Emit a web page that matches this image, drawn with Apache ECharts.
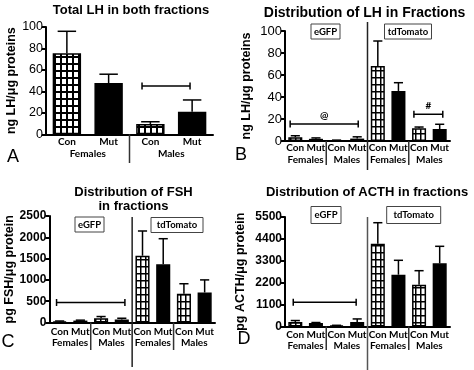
<!DOCTYPE html>
<html><head><meta charset="utf-8">
<script src="https://cdn.jsdelivr.net/npm/echarts@6/dist/echarts.min.js"></script>
<style>html,body{margin:0;padding:0;background:#fff}#c{width:474px;height:370px}</style>
</head><body><div id="c"></div>
<script>
// ---------- data ----------
const catsA = ['Con','Mut','Con','Mut'];
const groupsA = ['Females','Males'];
const meanA = [75.6, 47.7, 9.6, 21];
const errA = [96, 56, 11.7, 32];

const cats8 = ['Con','Mut','Con','Mut','Con','Mut','Con','Mut'];
const groups8 = ['Females','Males','Females','Males'];
const meanB = [3.5, 2, 0.5, 2.2, 68.2, 45.5, 11.5, 10.9];
const errB = [4.8, 2.8, 0.8, 3.8, 90.9, 53, 12.7, 15.2];
const meanC = [25, 45, 100, 70, 1568, 1366, 675, 705];
const errC = [35, 55, 140, 100, 2148, 1967, 910, 1000];
const meanD = [220, 170, 50, 230, 4159, 2602, 2099, 3174];
const errD = [300, 200, 60, 380, 5213, 3325, 2803, 4028];

const fractionLabels = ['eGFP', 'tdTomato'];
const titleA = 'Total LH in both fractions';
const titleB = 'Distribution of LH in Fractions';
const titleC = ['Distribution of FSH', 'in fractions'];
const titleD = 'Distribution of ACTH in fractions';
const yNames = ['ng LH/\u03bcg proteins', 'ng LH/\u03bcg proteins', 'pg FSH/\u03bcg protein', 'pg ACTH/\u03bcg protein'];
const yMax = [100, 100, 2500, 5500];
const yInterval = [20, 20, 500, 1100];
const panelLetters = ['A', 'B', 'C', 'D'];
// significance brackets (category index span, value height, label)
const bracketsA = [{from: 1.8, to: 2.95, y: 45, label: ''}];
const bracketsB = [{from: -0.25, to: 3.05, y: 15.5, label: '@'}, {from: 5.75, to: 7.15, y: 24.3, label: '#'}];
const bracketsC = [{from: -0.15, to: 3.15, y: 470, label: ''}];
const bracketsD = [{from: -0.1, to: 2.95, y: 1220, label: ''}];

// ---------- layout ----------
const panels = [
  {cats: catsA, groups: groupsA, mean: meanA, err: errA, brackets: bracketsA,
   grid: {left: 46, top: 27, width: 167, height: 107.3}, tickFont: 12.5, tickWeight: 'normal',
   nameGap: 24, labMargin: 2.5, grpOffset: 14.5, pat: [6, 7, 2]},
  {cats: cats8, groups: groups8, mean: meanB, err: errB, brackets: bracketsB,
   grid: {left: 285, top: 31, width: 165, height: 110}, tickFont: 13, tickWeight: 'normal',
   nameGap: 32, labMargin: 2, grpOffset: 14, pat: [5, 7, 1.5]},
  {cats: cats8, groups: groups8, mean: meanC, err: errC, brackets: bracketsC,
   grid: {left: 49.3, top: 216, width: 165.7, height: 106.5}, tickFont: 12, tickWeight: 'bold',
   nameGap: 31, labMargin: 4.5, grpOffset: 15, pat: [5, 7, 1.5]},
  {cats: cats8, groups: groups8, mean: meanD, err: errD, brackets: bracketsD,
   grid: {left: 285, top: 217, width: 165, height: 109.5}, tickFont: 12, tickWeight: 'bold',
   nameGap: 38, labMargin: 3, grpOffset: 14, pat: [5, 7, 1.5]}
];

function makePattern(w, h, lw) {
  const c = document.createElement('canvas');
  c.width = w; c.height = h;
  const g = c.getContext('2d');
  g.fillStyle = '#fff'; g.fillRect(0, 0, w, h);
  g.fillStyle = '#000';
  g.fillRect(0, 0, w, lw);
  g.fillRect(0, 0, lw, h);
  return c;
}

const BAR_FRAC = 0.68, CAP_FRAC = 0.65;
const chart = echarts.init(document.getElementById('c'), null, {renderer: 'canvas'});

const grids = [], xAxes = [], yAxes = [], series = [];
panels.forEach((p, g) => {
  grids.push(Object.assign({containLabel: false}, p.grid));
  xAxes[g] = {
    gridIndex: g, type: 'category', data: p.cats,
    axisLine: {lineStyle: {color: '#000', width: 2}}, axisTick: {show: false},
    axisLabel: {interval: 0, color: '#000', fontFamily: 'Lato', fontWeight: 'bold', fontSize: 10, margin: p.labMargin}
  };
  xAxes[g + 4] = {
    gridIndex: g, type: 'category', data: p.groups, position: 'bottom', offset: p.grpOffset,
    axisLine: {show: false}, axisTick: {show: false},
    axisLabel: {interval: 0, color: '#000', fontFamily: 'Lato', fontWeight: 'bold', fontSize: 10, margin: 0}
  };
  yAxes.push({
    gridIndex: g, type: 'value', min: 0, max: yMax[g], interval: yInterval[g],
    axisLine: {show: true, lineStyle: {color: '#000', width: 2}},
    axisTick: {show: true, length: 4, lineStyle: {color: '#000', width: 2}},
    splitLine: {show: false},
    axisLabel: {color: '#000', fontFamily: 'Liberation Sans', fontSize: p.tickFont, fontWeight: p.tickWeight, margin: 3,
                formatter: v => String(v)},
    name: yNames[g], nameLocation: 'middle', nameGap: p.nameGap,
    nameTextStyle: {color: '#000', fontFamily: 'Liberation Sans', fontWeight: 'bold', fontSize: 12.5}
  });
  const pattern = {image: makePattern(p.pat[0], p.pat[1], p.pat[2]), repeat: 'repeat'};
  series.push({
    type: 'bar', xAxisIndex: g, yAxisIndex: g, barWidth: (BAR_FRAC * 100) + '%', silent: true,
    itemStyle: {borderColor: '#000', borderWidth: 1.5},
    data: p.mean.map((m, i) => ({value: m, itemStyle: {color: p.cats[i] === 'Con' ? pattern : '#000'}}))
  });
  series.push({
    type: 'custom', xAxisIndex: g, yAxisIndex: g, silent: true, z: 5,
    encode: {x: 0, y: [1, 2]},
    data: p.mean.map((m, i) => [i, m, p.err[i]]),
    renderItem: function (params, api) {
      const x = api.value(0), m = api.value(1), e = api.value(2);
      const p0 = api.coord([x, m]), p1 = api.coord([x, e]);
      const cw = api.size([1, 0])[0] * BAR_FRAC * CAP_FRAC;
      const st = {stroke: '#000', lineWidth: 1.5};
      return {type: 'group', children: [
        {type: 'line', shape: {x1: p0[0], y1: p0[1], x2: p1[0], y2: p1[1]}, style: st},
        {type: 'line', shape: {x1: p1[0] - cw / 2, y1: p1[1], x2: p1[0] + cw / 2, y2: p1[1]}, style: st}
      ]};
    }
  });
});

chart.setOption({animation: false, backgroundColor: '#fff', grid: grids, xAxis: xAxes, yAxis: yAxes, series: series});

// ---------- decorations ----------
function xpx(g, v) {
  const a = chart.convertToPixel({xAxisIndex: g}, 0);
  const b = chart.convertToPixel({xAxisIndex: g}, 1);
  return a + v * (b - a);
}
function ypx(g, v) { return chart.convertToPixel({yAxisIndex: g}, v); }
function txt(x, y, s, font, align) {
  return {type: 'text', x: x, y: y, z: 10, silent: true,
    style: {text: s, font: font, fill: '#000', align: align || 'center', verticalAlign: 'middle',
            textAlign: align || 'center', textVerticalAlign: 'middle'}};
}
function vline(x, y1, y2, color, w) {
  return {type: 'line', z: 10, silent: true, shape: {x1: x, y1: y1, x2: x, y2: y2}, style: {stroke: color || '#000', lineWidth: w || 1.5}};
}
function box(cx, cy, w, h, s) {
  return [{type: 'rect', z: 10, silent: true, shape: {x: cx - w / 2, y: cy - h / 2, width: w, height: h}, style: {fill: '#fff', stroke: '#444', lineWidth: 1}},
          txt(cx, cy, s, 'bold 9.5px Lato')];
}
const els = [];
const TF = 'bold 13px "Liberation Sans"';
els.push(txt(131, 10, titleA, TF));
els.push(txt(364.5, 13, titleB, 'bold 14px "Liberation Sans"'));
els.push(txt(133.5, 192, titleC[0], TF));
els.push(txt(133.5, 206.5, titleC[1], TF));
els.push(txt(367, 192, titleD, TF));
// panel letters
const letterPos = [[13, 157], [241, 155], [8, 342], [244, 339]];
panelLetters.forEach((L, i) => els.push(txt(letterPos[i][0], letterPos[i][1], L, '18px "Liberation Sans"')));
// separators
const y0 = [0, 1, 2, 3].map(g => ypx(g, 0));
els.push(vline(xpx(0, 1.5), y0[0], 163, '#333'));
els.push(vline(xpx(1, 1.5), y0[1], 165, '#333'));
els.push(vline(xpx(1, 5.5), y0[1], 165, '#333'));
els.push(vline(xpx(1, 3.5), 22, 170, '#222'));
els.push(vline(xpx(2, 1.5), y0[2], 350, '#333'));
els.push(vline(xpx(2, 5.5), y0[2], 350, '#333'));
els.push(vline(xpx(2, 3.5), 217, 367, '#222'));
els.push(vline(xpx(3, 1.5), y0[3], 350, '#333'));
els.push(vline(xpx(3, 5.5), y0[3], 350, '#333'));
els.push(vline(xpx(3, 3.5), 217, 370, '#555'));
// fraction boxes
els.push(...box(325.5, 31.5, 29, 15, fractionLabels[0]));
els.push(...box(408, 31.5, 47, 15, fractionLabels[1]));
els.push(...box(89.5, 224.5, 29, 15, fractionLabels[0]));
els.push(...box(177, 225, 52, 15, fractionLabels[1]));
els.push(...box(326, 215, 30, 17, fractionLabels[0]));
els.push(...box(413.7, 215, 54, 17, fractionLabels[1]));
// brackets
panels.forEach((p, g) => {
  p.brackets.forEach(b => {
    const x0 = xpx(g, b.from), x1 = xpx(g, b.to), y = ypx(g, b.y);
    const st = {stroke: '#000', lineWidth: 1.5};
    els.push({type: 'line', z: 10, silent: true, shape: {x1: x0, y1: y, x2: x1, y2: y}, style: st});
    els.push({type: 'line', z: 10, silent: true, shape: {x1: x0, y1: y - 3.5, x2: x0, y2: y + 3.5}, style: st});
    els.push({type: 'line', z: 10, silent: true, shape: {x1: x1, y1: y - 3.5, x2: x1, y2: y + 3.5}, style: st});
    if (b.label) els.push(txt((x0 + x1) / 2, y - 8, b.label, 'bold 10px Lato'));
  });
});
chart.setOption({graphic: {elements: els}});
</script></body></html>
